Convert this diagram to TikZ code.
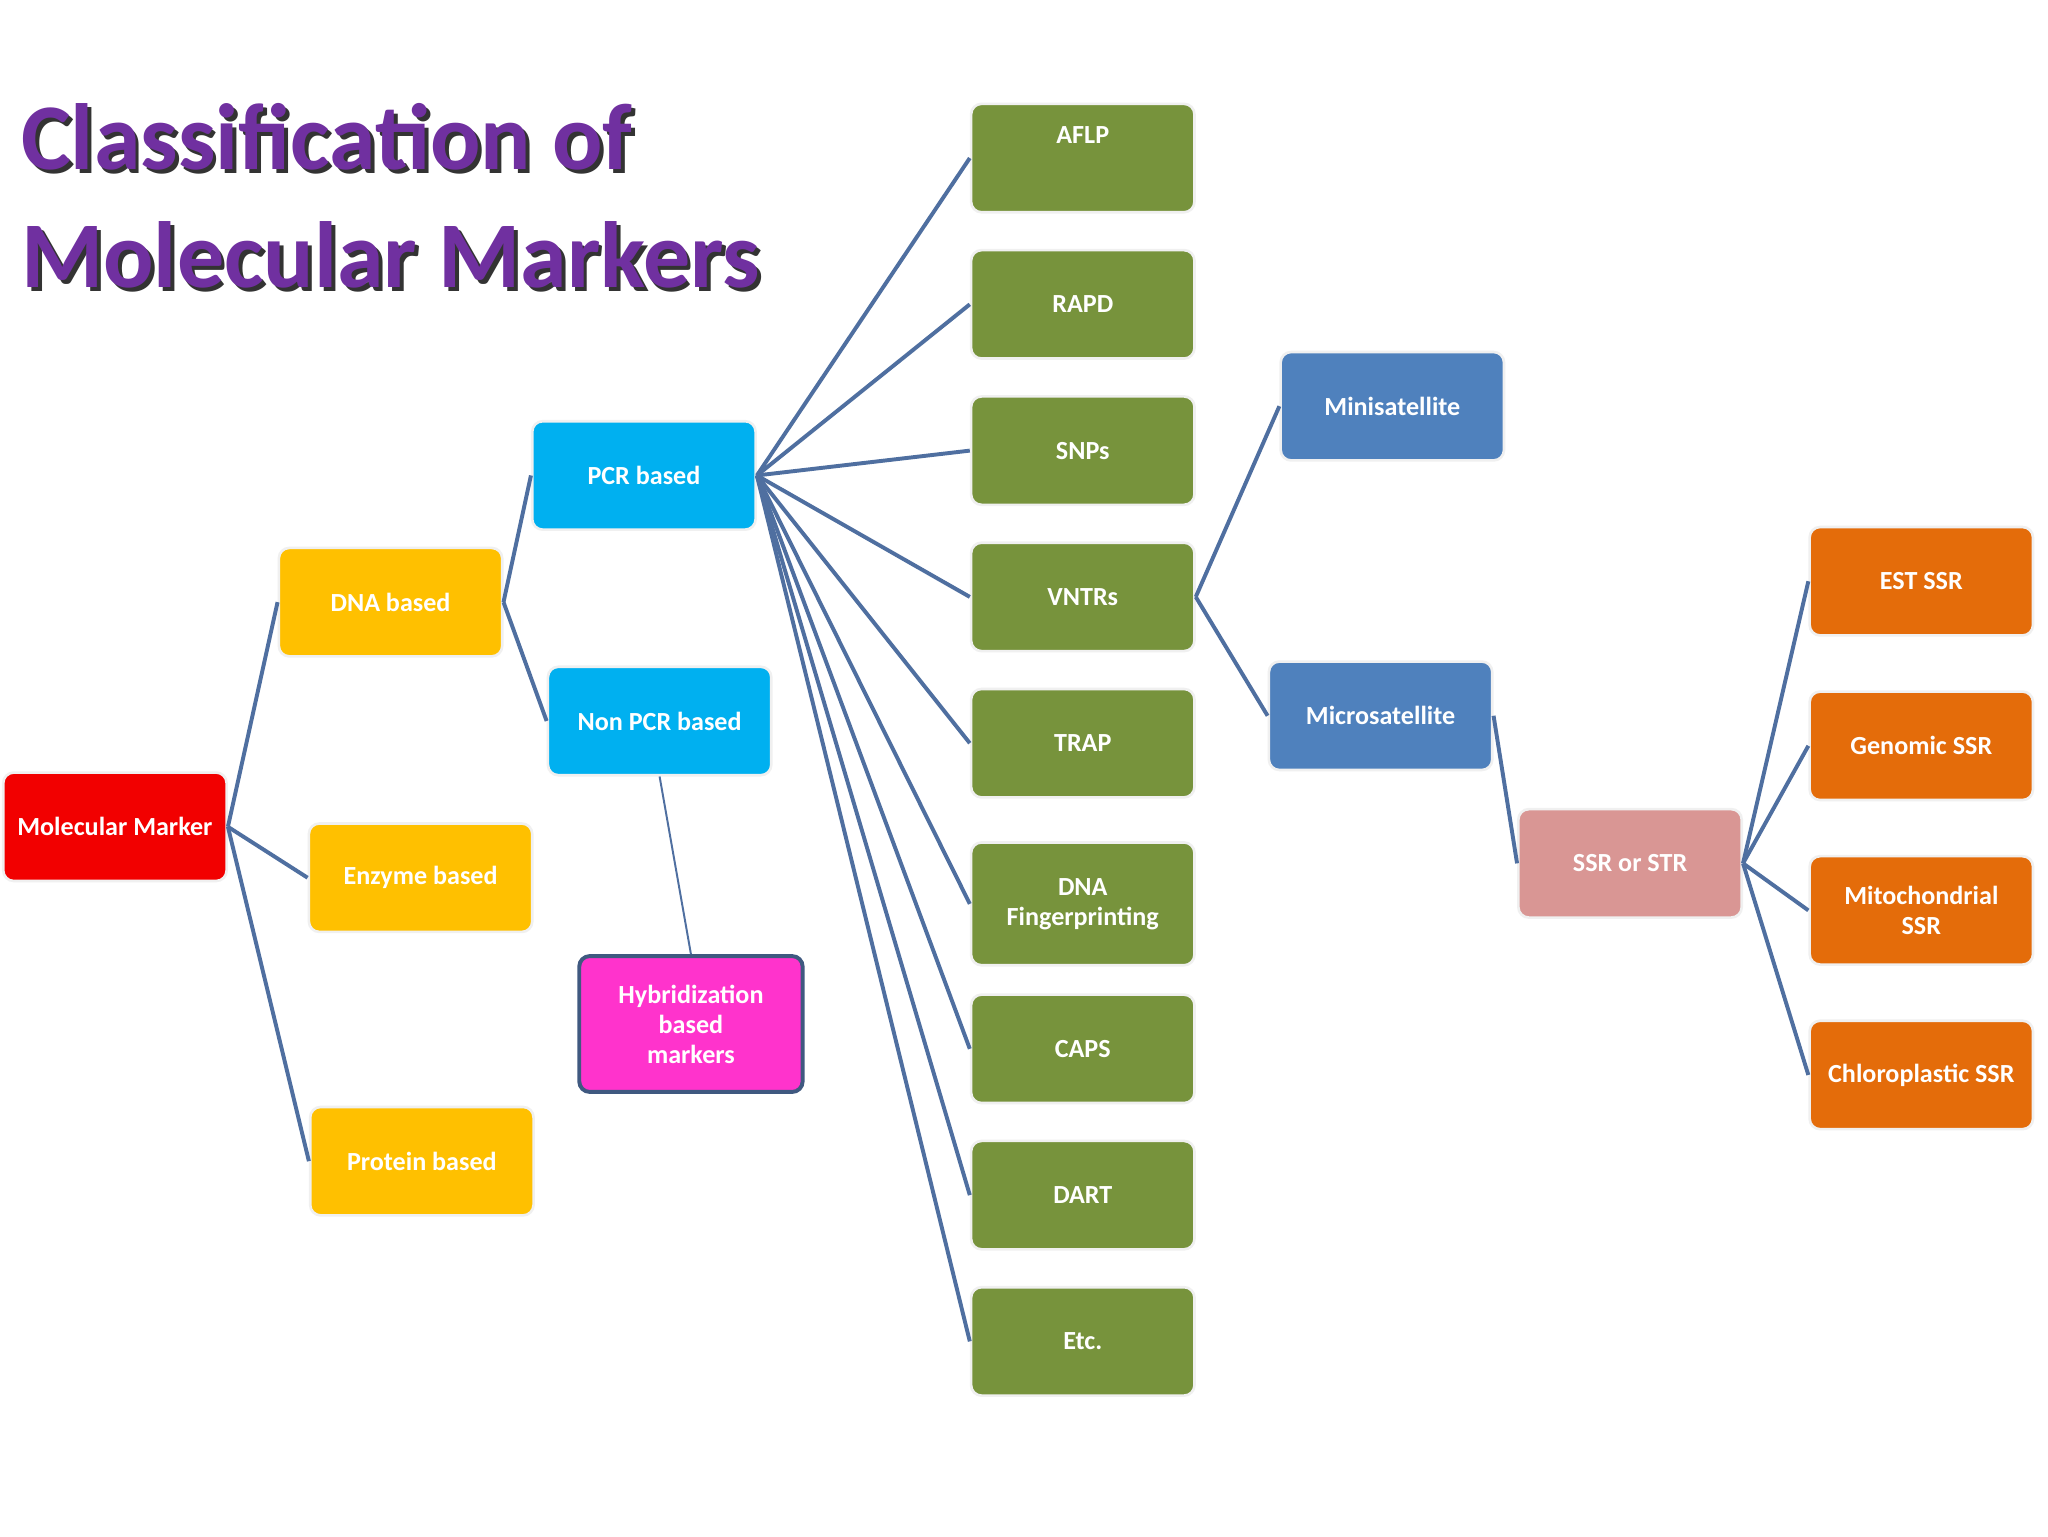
\documentclass[tikz,border=0pt]{standalone}
\usepackage{fontspec}
\setmainfont{Carlito}
\begin{document}
\begin{tikzpicture}[x=1pt,y=-1pt,
 box/.style={rounded corners=8pt,draw=white!88!gray,line width=2pt,minimum width=171pt,minimum height=83pt,text=white,font=\bfseries\fontsize{20}{23}\selectfont,align=center,inner sep=2pt},
 red/.style={box,fill=red!95!black,minimum width=171pt},
 yel/.style={box,fill=yelc},
 cya/.style={box,fill=cyac},
 grn/.style={box,fill=grnc},
 blu/.style={box,fill=bluc},
 pnk/.style={box,fill=pnkc},
 org/.style={box,fill=orgc},
 ln/.style={draw=linec,line width=3pt}]
\definecolor{yelc}{HTML}{FFC000}
\definecolor{cyac}{HTML}{00B0F0}
\definecolor{grnc}{HTML}{77933C}
\definecolor{bluc}{HTML}{4F81BD}
\definecolor{pnkc}{HTML}{D99694}
\definecolor{orgc}{HTML}{E46C0A}
\definecolor{magc}{HTML}{FF33CC}
\definecolor{linec}{HTML}{4F6FA0}
\definecolor{titc}{HTML}{7030A0}
\useasboundingbox (0,0) rectangle (1568,1176);
\fill[white] (0,0) rectangle (1568,1176);
% title
\foreach \dx/\c in {3/black!80,0/titc}{
 \node[anchor=west,text=\c,font=\bfseries\fontsize{72}{90}\selectfont,align=left,inner sep=0] (t\dx) at (16+\dx,150+\dx) {Classification of\\Molecular Markers};}
% nodes
\node[red] (mm) at (88,633) {Molecular Marker};
\node[yel] (dna) at (299,461) {DNA based};
\node[yel] (enz) at (322,672) {Enzyme based};
\node[yel] (pro) at (323,889) {Protein based};
\node[cya] (pcr) at (493,364) {PCR based};
\node[cya] (npcr) at (505,552) {Non PCR based};
\node[box,fill=magc,draw=linec!80!black,line width=3pt,minimum height=104pt] (hyb) at (529,784) {Hybridization\\based\\markers};
\node[grn] (aflp) at (829,121) {};
\node[text=white,font=\bfseries\fontsize{20}{23}\selectfont] (aflpt) at (829,103) {AFLP};
\node[grn] (rapd) at (829,233) {RAPD};
\node[grn] (snp) at (829,345) {SNPs};
\node[grn] (vntr) at (829,457) {VNTRs};
\node[grn] (trap) at (829,569) {TRAP};
\node[grn,minimum height=94pt] (fing) at (829,692) {DNA\\Fingerprinting};
\node[grn] (caps) at (829,803) {CAPS};
\node[grn] (dart) at (829,915) {DART};
\node[grn] (etc) at (829,1027) {Etc.};
\node[blu] (mini) at (1066,311) {Minisatellite};
\node[blu] (micro) at (1057,548) {Microsatellite};
\node[pnk] (ssr) at (1248,661) {SSR or STR};
\node[org] (est) at (1471,445) {EST SSR};
\node[org] (gen) at (1471,571) {Genomic SSR};
\node[org] (mit) at (1471,697) {Mitochondrial\\SSR};
\node[org] (chl) at (1471,823) {Chloroplastic SSR};
% edges
\foreach \a/\b in {mm/dna,mm/enz,mm/pro,dna/pcr,dna/npcr,vntr/mini,vntr/micro,micro/ssr,ssr/est,ssr/gen,ssr/mit,ssr/chl}
 \draw[ln] (\a.east) -- (\b.west);
\foreach \b in {aflp,rapd,snp,vntr,trap,fing,caps,dart,etc}
 \draw[ln] (pcr.east) -- (\b.west);
\draw[linec,line width=1.5pt] (npcr.south) -- (hyb.north);
\end{tikzpicture}
\end{document}
